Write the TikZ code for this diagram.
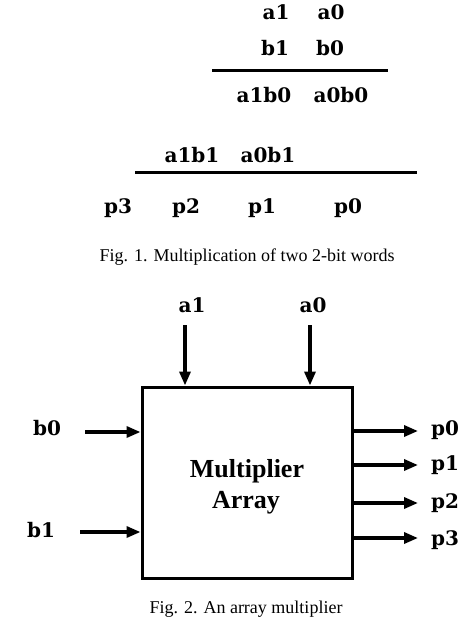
\documentclass[tikz,border=0pt]{standalone}
\usepackage{fontspec}
\setmainfont{Liberation Serif}
\newfontfamily\bitfont{DejaVu Serif}[BoldFont={DejaVu Serif Bold}]
\usetikzlibrary{arrows.meta}
\begin{document}
\begin{tikzpicture}[x=1pt,y=-1pt,
  bit/.style={inner sep=0pt,anchor=base,font=\bitfont\bfseries\fontsize{20}{23}\selectfont},
  figcap/.style={inner sep=0pt,anchor=base,font=\fontsize{18}{21}\selectfont},
  rule/.style={line width=3pt},
  arr/.style={line width=3.3pt,-{Triangle[length=14pt,width=11pt]}},
  boxst/.style={draw,line width=3pt,minimum width=210pt,minimum height=191pt,inner sep=0pt},
  boxtxt/.style={inner sep=0pt,anchor=base,font=\bfseries\fontsize{26}{31}\selectfont}]
\useasboundingbox (0,0) rectangle (474,638);
% Fig. 1
\node[bit] (ta1) at (276,19) {a1};
\node[bit] (ta0) at (331,19) {a0};
\node[bit] (tb1) at (275,55) {b1};
\node[bit] (tb0) at (330,55) {b0};
\coordinate (r1l) at (212,70);
\coordinate (r1r) at (388,70);
\draw[rule] (r1l) -- (r1r);
\node[bit] (a1b0) at (264,102) {a1b0};
\node[bit] (a0b0) at (341,102) {a0b0};
\node[bit] (a1b1) at (192,162) {a1b1};
\node[bit] (a0b1) at (268,162) {a0b1};
\coordinate (r2l) at (135,172);
\coordinate (r2r) at (417,172);
\draw[rule] (r2l) -- (r2r);
\node[bit] (tp3) at (118,213) {p3};
\node[bit] (tp2) at (186,213) {p2};
\node[bit] (tp1) at (262,213) {p1};
\node[bit] (tp0) at (348,213) {p0};
\node[figcap] (cap1) at (247,261) {Fig. 1. Multiplication of two 2-bit words};
% Fig. 2
\node[boxst] (box) at (247,482.5) {};
\node[boxtxt] (mtxt) at (247,477) {Multiplier};
\node[boxtxt] (atxt) at (246,508) {Array};
\node[bit] (la1) at (192,312) {a1};
\node[bit] (la0) at (313,312) {a0};
\coordinate (a1top) at (185,325);
\coordinate (a0top) at (310,325);
\draw[arr] (a1top) -- (a1top |- box.north);
\draw[arr] (a0top) -- (a0top |- box.north);
\node[bit] (lb0) at (47,435) {b0};
\node[bit] (lb1) at (41,537) {b1};
\coordinate (b0st) at (85,432);
\coordinate (b1st) at (80,532);
\draw[arr] (b0st) -- (b0st -| box.west);
\draw[arr] (b1st) -- (b1st -| box.west);
\coordinate (p0tip) at (418,431);
\coordinate (p1tip) at (418,465);
\coordinate (p2tip) at (418,503);
\coordinate (p3tip) at (418,538);
\draw[arr] (p0tip -| box.east) -- (p0tip);
\draw[arr] (p1tip -| box.east) -- (p1tip);
\draw[arr] (p2tip -| box.east) -- (p2tip);
\draw[arr] (p3tip -| box.east) -- (p3tip);
\node[bit] (lp0) at (445,435) {p0};
\node[bit] (lp1) at (445,470) {p1};
\node[bit] (lp2) at (445,508) {p2};
\node[bit] (lp3) at (445,545) {p3};
\node[figcap] (cap2) at (246,613) {Fig. 2. An array multiplier};
\end{tikzpicture}
\end{document}
